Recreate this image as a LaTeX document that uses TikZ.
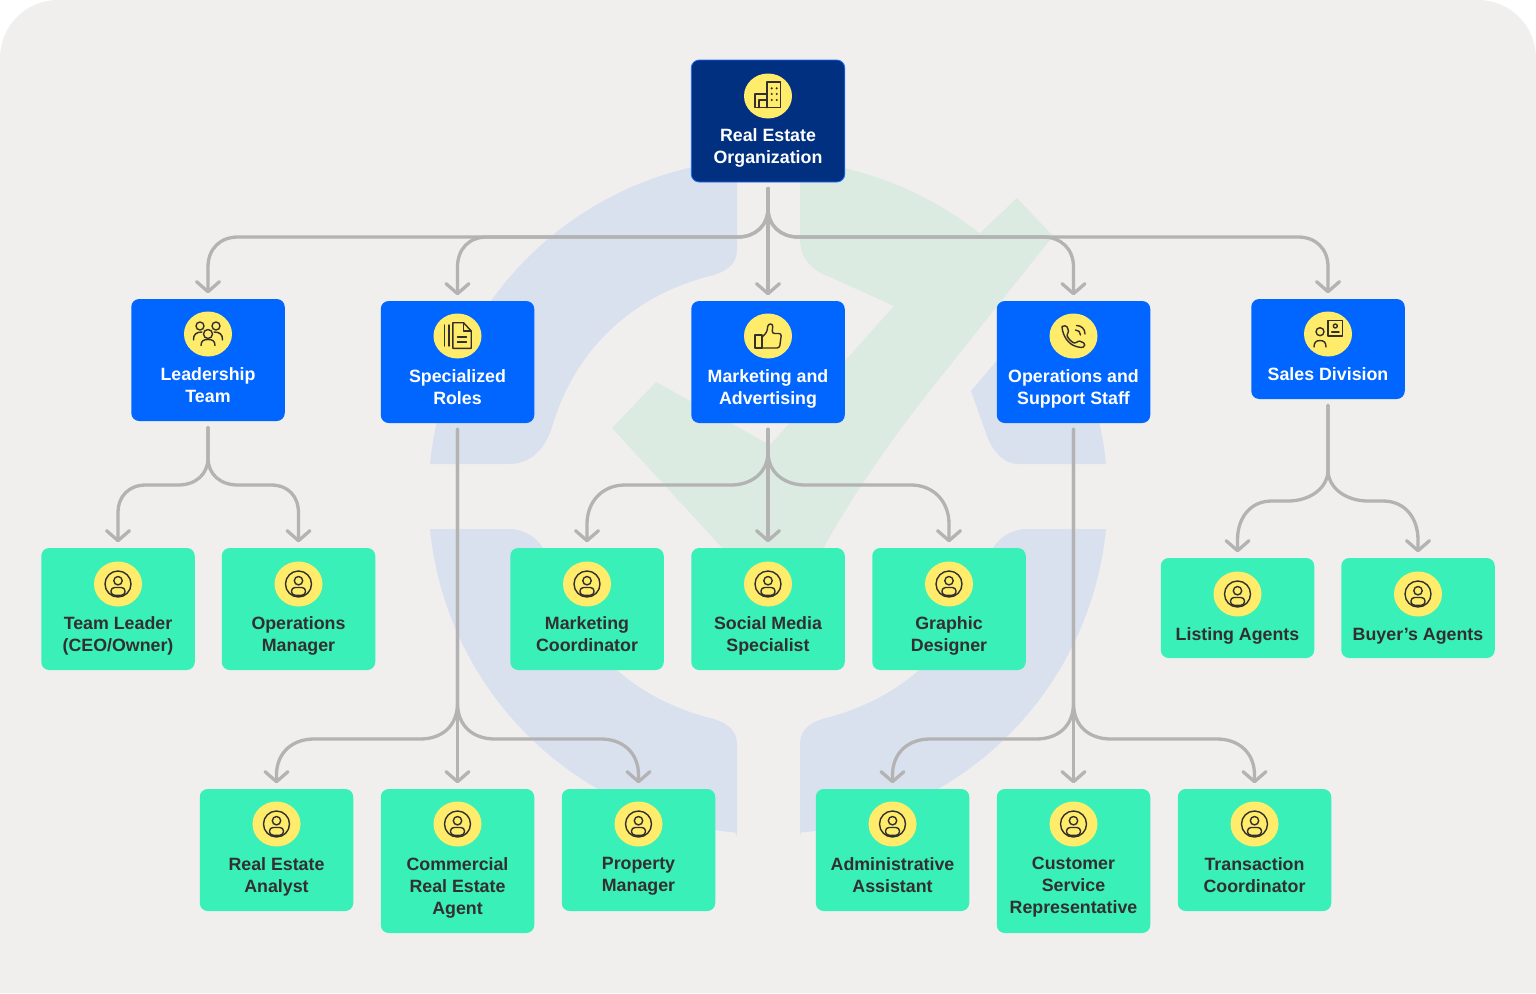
\documentclass[tikz,border=0pt]{standalone}
\usepackage{fontspec}
\setmainfont{Liberation Sans}
\usetikzlibrary{arrows.meta,shapes.geometric}

\definecolor{pagebg}{HTML}{F0EFED}
\definecolor{markblue}{HTML}{DAE1EE}
\definecolor{markgreen}{HTML}{DCEBE1}
\definecolor{rootfill}{HTML}{00307F}
\definecolor{rootedge}{HTML}{1A6BFF}
\definecolor{deptfill}{HTML}{0066FF}
\definecolor{rolefill}{HTML}{38F0B8}
\definecolor{iconfill}{HTML}{FFEC6B}
\definecolor{inkdark}{HTML}{332F2E}
\definecolor{linkgray}{HTML}{B3B3B3}

\tikzset{
  cardbox/.style={rectangle, rounded corners=8pt, minimum width=153.5pt, inner sep=0pt},
  rootbox/.style={cardbox, fill=rootfill, draw=rootedge, line width=0.8pt},
  deptbox/.style={cardbox, fill=deptfill},
  rolebox/.style={cardbox, fill=rolefill},
  icondisc/.style={ellipse, fill=iconfill, minimum width=48pt, minimum height=45pt, inner sep=0pt},
  cardtext/.style={align=center, inner sep=0pt, font=\fontsize{17.8}{22}\selectfont\bfseries,
    execute at begin node=\strut, execute at end node=\strut},
  depttext/.style={cardtext, text=white},
  roletext/.style={cardtext, text=inkdark},
  link/.style={draw=linkgray, line width=3.3pt, line cap=round, shorten <=6pt, shorten >=5.5pt,
    -{Straight Barb[length=10pt,width=23pt,round]}},
  glyph/.style={draw=inkdark, line width=1.4pt, line join=round, line cap=round},
  pics/personicon/.style={code={
    \draw[glyph] (0,0) circle (13);
    \draw[glyph] (0,-3.3) circle (4.2);
    \draw[glyph, rounded corners=3.5pt] (-7,3.5) rectangle (7,11.2);
  }},
  pics/buildingicon/.style={code={
    \draw[glyph] (-1,11.7) -- (-1,-14) -- (12.7,-14) -- (12.7,11.7) -- (-13,11.7) -- (-13,-2) -- (-1,-2);
    \draw[glyph] (-9,11.7) -- (-9,4) -- (-2,4);
    \fill[inkdark] (3.7,-7.7) circle (1.2) (8.7,-7.7) circle (1.2) (3.7,-2) circle (1.2) (8.7,-2) circle (1.2) (3.7,4) circle (1.2) (8.7,4) circle (1.2);
  }},
  pics/teamicon/.style={code={
    \draw[glyph] (-8,-8) circle (4) (8,-8) circle (4) (0,0) circle (4.5);
    \draw[glyph] (-14.5,6) .. controls (-15,0) and (-11,-2) .. (-6,-2);
    \draw[glyph] (14.5,6) .. controls (15,0) and (11,-2) .. (6,-2);
    \draw[glyph] (-7,11.5) .. controls (-7,6.5) and (-4,5.5) .. (0,5.5) .. controls (4,5.5) and (7,6.5) .. (7,11.5);
  }},
  pics/recordsicon/.style={code={
    \draw[glyph] (-13,-11) -- (-13,10) (-8.7,-11) -- (-8.7,10);
    \draw[glyph] (-4.7,-13.3) -- (6,-13.3) -- (13.7,-5) -- (13.7,12.3) -- (-4.7,12.3) -- cycle;
    \draw[glyph] (6,-13.3) -- (6,-5) -- (13.7,-5);
    \draw[glyph] (0,1) -- (9,1) (0,6) -- (9,6);
  }},
  pics/thumbicon/.style={code={
    \draw[glyph] (-13,-1) rectangle (-6,12);
    \draw[glyph, rounded corners=2.5pt] (-6,1) -- (-1,-4) -- (0,-12) -- (5,-12) -- (4,-2.5) -- (13.5,-2.5) -- (11.5,12) -- (-6,12);
  }},
  pics/phoneicon/.style={code={
    \draw[glyph, rounded corners=1.5pt] (-11.5,-9.5) -- (-7,-10.5) -- (-4.5,-4) -- (-7,-1.5) .. controls (-5,3) and (-2,6) .. (2,7.5) -- (5,4.5) -- (11.5,7.5) -- (11,10.5) .. controls (9,11.5) and (6,11.5) .. (3,10.5) .. controls (-5,8) and (-11,0) .. (-11.5,-9.5);
    \draw[glyph] (2,-6) .. controls (5,-6) and (7,-4) .. (7,-1);
    \draw[glyph] (3,-10.5) .. controls (8,-10.5) and (11.5,-7) .. (11.5,-2);
  }},
  pics/salesicon/.style={code={
    \draw[glyph] (0,-13.3) rectangle (14.5,2);
    \draw[glyph] (7.3,-8) circle (2);
    \draw[glyph, line width=2pt] (3.8,-2.5) -- (10.8,-2.5);
    \draw[glyph] (-8,-2.3) circle (4);
    \draw[glyph] (-14,13) .. controls (-14,8.5) and (-12,6.5) .. (-8,6.5) .. controls (-4,6.5) and (-2,8.5) .. (-2,13);
  }}
}

\begin{document}
\begin{tikzpicture}[x=1pt,y=-1pt]
\useasboundingbox (0,0) rectangle (1536,993);
\fill[pagebg] (0,993) {[rounded corners=58pt] -- (0,0) -- (1536,0)} -- (1536,993) -- cycle;

\fill[markblue] (430,464) arc[start angle=185.6, end angle=264.7, radius=338] -- (737,161) -- (737,250) .. controls (737,265) and (725,273) .. (706,277) .. controls (630,298) and (575,350) .. (552,427) .. controls (545,450) and (530,464) .. (509,464) -- cycle;
\fill[markblue] (430,529) arc[start angle=174.4, end angle=95.3, radius=338] -- (737,836) -- (737,744) .. controls (737,729) and (725,721) .. (706,717) .. controls (630,696) and (575,644) .. (552,567) .. controls (545,544) and (530,529) .. (509,529) -- cycle;
\fill[markblue] (1106,529) arc[start angle=5.6, end angle=84.7, radius=338] -- (800,836) -- (800,744) .. controls (800,729) and (811,721) .. (830,717) .. controls (906,696) and (961,644) .. (984,567) .. controls (991,544) and (1006,529) .. (1027,529) -- cycle;
\fill[markblue] (1106,464) arc[start angle=354.4, end angle=342.3, radius=338] -- (1010,345) -- (971,391) -- (987,436) .. controls (993,452) and (1004,464) .. (1018,464) -- cycle;
\fill[markgreen] (612,428) -- (656,382) -- (770,445) -- (894,306) -- (830,277) .. controls (812,271) and (800,258) .. (800,239) -- (800,161) arc[start angle=275.4, end angle=308.5, radius=340] -- (1017,198) -- (1053,236) -- (940,378) .. controls (890,440) and (850,500) .. (824,547) -- (790,600) -- (770,600) -- cycle;

\node[rootbox, minimum height=122pt] (root) at (768,121) {};
\node[icondisc] (rootdisc) at (768,96) {};
\pic at (768,96) {buildingicon};
\node[depttext] (roottext) at (768,149) {Real Estate\\Organization};

\node[deptbox, minimum height=122pt] (leadership) at (208,360) {};
\node[icondisc] (leadershipdisc) at (208,334) {};
\pic at (208,334) {teamicon};
\node[depttext] (leadershiptext) at (208,388) {Leadership\\Team};

\node[deptbox, minimum height=122pt] (specialized) at (457.5,362) {};
\node[icondisc] (specializeddisc) at (457.5,336) {};
\pic at (457.5,336) {recordsicon};
\node[depttext] (specializedtext) at (457.5,390) {Specialized\\Roles};

\node[deptbox, minimum height=122pt] (marketing) at (768,362) {};
\node[icondisc] (marketingdisc) at (768,336) {};
\pic at (768,336) {thumbicon};
\node[depttext] (marketingtext) at (768,390) {Marketing and\\Advertising};

\node[deptbox, minimum height=122pt] (operations) at (1073.5,362) {};
\node[icondisc] (operationsdisc) at (1073.5,336) {};
\pic at (1073.5,336) {phoneicon};
\node[depttext] (operationstext) at (1073.5,390) {Operations and\\Support Staff};

\node[deptbox, minimum height=100pt] (sales) at (1328,349) {};
\node[icondisc] (salesdisc) at (1328,334) {};
\pic at (1328,334) {salesicon};
\node[depttext] (salestext) at (1328,376) {Sales Division};

\node[rolebox, minimum height=122pt] (teamleader) at (118,609) {};
\node[icondisc] (teamleaderdisc) at (118,584) {};
\pic at (118,584) {personicon};
\node[roletext] (teamleadertext) at (118,637) {Team Leader\\(CEO/Owner)};

\node[rolebox, minimum height=122pt] (opsmanager) at (298.5,609) {};
\node[icondisc] (opsmanagerdisc) at (298.5,584) {};
\pic at (298.5,584) {personicon};
\node[roletext] (opsmanagertext) at (298.5,637) {Operations\\Manager};

\node[rolebox, minimum height=122pt] (marketcoord) at (587,609) {};
\node[icondisc] (marketcoorddisc) at (587,584) {};
\pic at (587,584) {personicon};
\node[roletext] (marketcoordtext) at (587,637) {Marketing\\Coordinator};

\node[rolebox, minimum height=122pt] (socialmedia) at (768,609) {};
\node[icondisc] (socialmediadisc) at (768,584) {};
\pic at (768,584) {personicon};
\node[roletext] (socialmediatext) at (768,637) {Social Media\\Specialist};

\node[rolebox, minimum height=122pt] (graphic) at (949,609) {};
\node[icondisc] (graphicdisc) at (949,584) {};
\pic at (949,584) {personicon};
\node[roletext] (graphictext) at (949,637) {Graphic\\Designer};

\node[rolebox, minimum height=100pt] (listing) at (1237.5,608) {};
\node[icondisc] (listingdisc) at (1237.5,594) {};
\pic at (1237.5,594) {personicon};
\node[roletext] (listingtext) at (1237.5,636) {Listing Agents};

\node[rolebox, minimum height=100pt] (buyers) at (1418,608) {};
\node[icondisc] (buyersdisc) at (1418,594) {};
\pic at (1418,594) {personicon};
\node[roletext] (buyerstext) at (1418,636) {Buyer’s Agents};

\node[rolebox, minimum height=122pt] (analyst) at (276.5,850) {};
\node[icondisc] (analystdisc) at (276.5,824) {};
\pic at (276.5,824) {personicon};
\node[roletext] (analysttext) at (276.5,878) {Real Estate\\Analyst};

\node[rolebox, minimum height=144pt] (commercial) at (457.5,861) {};
\node[icondisc] (commercialdisc) at (457.5,824) {};
\pic at (457.5,824) {personicon};
\node[roletext] (commercialtext) at (457.5,889) {Commercial\\Real Estate\\Agent};

\node[rolebox, minimum height=122pt] (property) at (638.5,850) {};
\node[icondisc] (propertydisc) at (638.5,824) {};
\pic at (638.5,824) {personicon};
\node[roletext] (propertytext) at (638.5,878) {Property\\Manager};

\node[rolebox, minimum height=122pt] (admin) at (892.5,850) {};
\node[icondisc] (admindisc) at (892.5,824) {};
\pic at (892.5,824) {personicon};
\node[roletext] (admintext) at (892.5,878) {Administrative\\Assistant};

\node[rolebox, minimum height=144pt] (customer) at (1073.5,861) {};
\node[icondisc] (customerdisc) at (1073.5,824) {};
\pic at (1073.5,824) {personicon};
\node[roletext] (customertext) at (1073.5,889) {Customer\\Service\\Representative};

\node[rolebox, minimum height=122pt] (transaction) at (1254.5,850) {};
\node[icondisc] (transactiondisc) at (1254.5,824) {};
\pic at (1254.5,824) {personicon};
\node[roletext] (transactiontext) at (1254.5,878) {Transaction\\Coordinator};

\draw[link] (root.south) -- (768,208) .. controls (768,226) and (755,237) .. (738,237) -- (238,237) .. controls (220,237) and (208,249) .. (208,267) -- (leadership.north);
\draw[link] (root.south) -- (768,208) .. controls (768,226) and (755,237) .. (738,237) -- (487,237) .. controls (469,237) and (457.5,249) .. (457.5,267) -- (specialized.north);
\draw[link] (root.south) -- (marketing.north);
\draw[link] (root.south) -- (768,208) .. controls (768,226) and (781,237) .. (798,237) -- (1043,237) .. controls (1061,237) and (1073.5,249) .. (1073.5,267) -- (operations.north);
\draw[link] (root.south) -- (768,208) .. controls (768,226) and (781,237) .. (798,237) -- (1298,237) .. controls (1316,237) and (1328,249) .. (1328,267) -- (sales.north);

\draw[link] (leadership.south) -- (208,458) .. controls (208,474) and (196,485) .. (178,485) -- (146,485) .. controls (129,485) and (118,496) .. (118,513) -- (teamleader.north);
\draw[link] (leadership.south) -- (208,458) .. controls (208,474) and (220,485) .. (238,485) -- (271,485) .. controls (288,485) and (298.5,496) .. (298.5,513) -- (opsmanager.north);

\draw[link] (specialized.south) -- (457.5,703) .. controls (457.5,726) and (442,739) .. (420,739) -- (314,739) .. controls (292,739) and (276.5,753) .. (276.5,775) -- (analyst.north);
\draw[link] (specialized.south) -- (commercial.north);
\draw[link] (specialized.south) -- (457.5,703) .. controls (457.5,726) and (473,739) .. (495,739) -- (601,739) .. controls (623,739) and (638.5,753) .. (638.5,775) -- (property.north);

\draw[link] (marketing.south) -- (768,452) .. controls (768,473) and (785,485) .. (805,485) -- (911,485) .. controls (934,485) and (949,502) .. (949,524) -- (graphic.north);
\draw[link] (marketing.south) -- (socialmedia.north);
\draw[link] (marketing.south) -- (768,452) .. controls (768,473) and (751,485) .. (731,485) -- (625,485) .. controls (602,485) and (587,502) .. (587,524) -- (marketcoord.north);

\draw[link] (operations.south) -- (1073.5,703) .. controls (1073.5,726) and (1058,739) .. (1036,739) -- (930,739) .. controls (908,739) and (892.5,753) .. (892.5,775) -- (admin.north);
\draw[link] (operations.south) -- (customer.north);
\draw[link] (operations.south) -- (1073.5,703) .. controls (1073.5,726) and (1089,739) .. (1111,739) -- (1217,739) .. controls (1239,739) and (1254.5,753) .. (1254.5,775) -- (transaction.north);

\draw[link] (sales.south) -- (1328,470) .. controls (1328,488) and (1310,501) .. (1288,501) -- (1272,501) .. controls (1250,501) and (1237.5,518) .. (1237.5,540) -- (listing.north);
\draw[link] (sales.south) -- (1328,470) .. controls (1328,488) and (1346,501) .. (1368,501) -- (1383,501) .. controls (1405,501) and (1418,518) .. (1418,540) -- (buyers.north);
\end{tikzpicture}
\end{document}
